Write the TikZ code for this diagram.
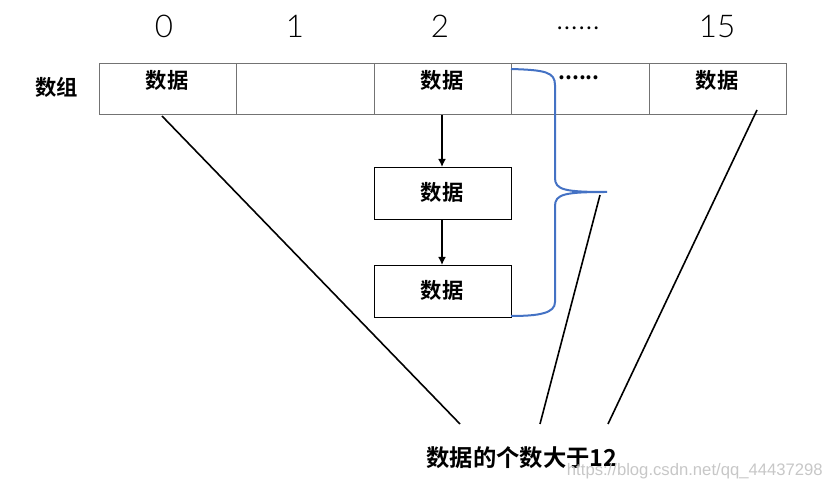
\documentclass[tikz,border=0pt]{standalone}
\usepackage{fontspec}
\setmainfont{Liberation Sans}
\newfontfamily\thinfont{Lato Light}
\newfontfamily\cjk{Noto Sans CJK SC}[BoldFont={Noto Sans CJK SC Bold}]
\usetikzlibrary{arrows.meta}
\begin{document}
\begin{tikzpicture}[x=0.75pt,y=-0.75pt,
  cell/.style={draw=black!55,line width=0.9pt,minimum width=137.5*0.75pt,minimum height=51*0.75pt,inner sep=0pt,anchor=north west},
  lbox/.style={draw=black,line width=0.9pt,minimum width=137*0.75pt,minimum height=52*0.75pt,inner sep=0pt,anchor=north west},
  idx/.style={font=\thinfont\fontsize{23.5}{26}\selectfont,anchor=base,inner sep=0pt},
  ctext/.style={font=\cjk\bfseries\fontsize{16}{18}\selectfont},
  arr/.style={-{Latex[length=6pt,width=6pt]},line width=2pt},
  ln/.style={line width=1.2pt}]
\useasboundingbox (0,0) rectangle (833,491);
% array cells
\node[cell] (c0) at (98.5,63) {};
\node[cell] (c1) at (236,63) {};
\node[cell] (c2) at (373.5,63) {};
\node[cell] (c3) at (511,63) {};
\node[cell] (c4) at (648.5,63) {};
\node[ctext] (t0) at (167,80) {数据};
\node[ctext] (t2) at (442,80) {数据};
\node[ctext] (t3) at (579,78) {......};
\node[ctext] (t4) at (717,80) {数据};
\node[ctext] (arrlbl) at (57,87) {数组};
% indices
\node[idx] (i0) at (164,38) {0};
\node[idx] (i1) at (295,38) {1};
\node[idx] (i2) at (440,38) {2};
\node[idx] (i3) at (578,30) {......};
\node[idx] (i4) at (717,38) {15};
% chain boxes
\node[lbox] (b1) at (374,167) {};
\node[lbox] (b2) at (374,265) {};
\node[ctext] (bt1) at (442,192) {数据};
\node[ctext] (bt2) at (442,290) {数据};
\draw[arr] (c2.south -| 442,0) -- (b1.north -| 442,0);
\draw[arr] (b1.south -| 442,0) -- (b2.north -| 442,0);
% brace
\coordinate (tip) at (607,192);
\draw[color={rgb,255:red,68;green,114;blue,196},line width=1.5pt]
  (511,69) .. controls (545,70) and (555,72) .. (555,85)
  -- (555,178) .. controls (555,190) and (565,192) .. (tip)
  (tip) .. controls (565,192) and (555,194) .. (555,206)
  -- (555,302) .. controls (555,313) and (540,316) .. (511,316);
% label and lines
\node[font=\cjk\bfseries\fontsize{17.5}{20}\selectfont,inner sep=0pt] (res) at (522,458) {数据的个数大于12};
\coordinate (l1a) at (162,116);
\coordinate (l1b) at (460,424);
\coordinate (l2a) at (600,195);
\coordinate (l2b) at (540,424);
\coordinate (l3a) at (757,110);
\coordinate (l3b) at (608,424);
\draw[ln] (l1a) -- (l1b);
\draw[ln] (l2a) -- (l2b);
\draw[ln] (l3a) -- (l3b);
\node[text=black!22,font=\fontsize{12.5}{14}\selectfont,anchor=east,inner sep=0pt] (wm) at (823,471) {https://blog.csdn.net/qq\_44437298};
\end{tikzpicture}
\end{document}
